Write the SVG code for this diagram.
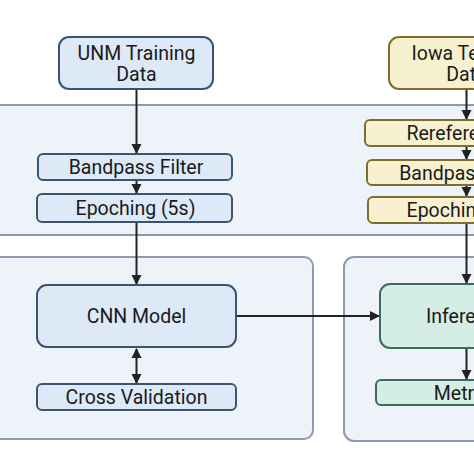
<svg xmlns="http://www.w3.org/2000/svg" width="474" height="474" viewBox="0 0 474 474">
<defs>
<marker id="ah" markerWidth="10" markerHeight="11" refX="9" refY="5.5" orient="auto" markerUnits="userSpaceOnUse">
<path d="M0,0.5 L10,5.5 L0,10.5 Z" fill="#222"/>
</marker>
<marker id="ahs" markerWidth="10" markerHeight="11" refX="1" refY="5.5" orient="auto" markerUnits="userSpaceOnUse">
<path d="M10,0.5 L0,5.5 L10,10.5 Z" fill="#222"/>
</marker>
<style>
.panel{fill:#eef2f9;stroke:#8d99ae;stroke-width:2}
.blue{fill:#dde9f6;stroke:#3b5570;stroke-width:2}
.yel{fill:#f8f1cf;stroke:#7e6c32;stroke-width:2}
.teal{fill:#d4ede5;stroke:#3d6a5d;stroke-width:2}
text{font-family:Roboto,"Liberation Sans",sans-serif;font-size:19.5px;fill:#1a1a1a;text-anchor:middle}
.c{stroke:#222;stroke-width:2;fill:none}
</style>
</defs>
<rect width="474" height="474" fill="#ffffff"/>
<g id="panels">
<rect class="panel" x="-20" y="105" width="520" height="130" rx="8"/>
<rect class="panel" x="-20" y="257" width="333" height="182" rx="9"/>
<rect class="panel" x="344" y="257" width="160" height="184" rx="10"/>
</g>
<g id="connectors">
<line class="c" x1="136.5" y1="90" x2="136.5" y2="153" marker-end="url(#ah)"/>
<line class="c" x1="136.5" y1="180" x2="136.5" y2="193" marker-end="url(#ah)"/>
<line class="c" x1="136.5" y1="222" x2="136.5" y2="284" marker-end="url(#ah)"/>
<line class="c" x1="136.5" y1="349" x2="136.5" y2="383" marker-start="url(#ahs)" marker-end="url(#ah)"/>
<line class="c" x1="236" y1="316" x2="379" y2="316" marker-end="url(#ah)"/>
<line class="c" x1="466.5" y1="90" x2="466.5" y2="119" marker-end="url(#ah)"/>
<line class="c" x1="466.5" y1="146" x2="466.5" y2="159" marker-end="url(#ah)"/>
<line class="c" x1="466.5" y1="185" x2="466.5" y2="196" marker-end="url(#ah)"/>
<line class="c" x1="466.5" y1="224" x2="466.5" y2="283" marker-end="url(#ah)"/>
<line class="c" x1="466.5" y1="349" x2="466.5" y2="379" marker-end="url(#ah)"/>
</g>
<g id="unm">
<rect class="blue" x="59" y="37" width="154" height="52" rx="10"/>
<text x="136.5" y="59.5">UNM Training</text>
<text x="136.5" y="81">Data</text>
</g>
<g id="bandpass-l">
<rect class="blue" x="38" y="154" width="194" height="26" rx="5"/>
<text x="136" y="173.5">Bandpass Filter</text>
</g>
<g id="epoch-l">
<rect class="blue" x="37" y="194" width="195" height="28" rx="5"/>
<text x="135.5" y="215">Epoching (5s)</text>
</g>
<g id="cnn">
<rect class="blue" x="37" y="285" width="199" height="62" rx="10"/>
<text x="136.5" y="323">CNN Model</text>
</g>
<g id="cv">
<rect class="blue" x="37" y="384" width="199" height="26" rx="5"/>
<text x="136.5" y="403.5">Cross Validation</text>
</g>
<g id="iowa">
<rect class="yel" x="389" y="37" width="155" height="52" rx="10"/>
<text x="466.5" y="59.5">Iowa Testing</text>
<text x="466.5" y="81">Data</text>
</g>
<g id="reref">
<rect class="yel" x="365" y="120" width="203" height="26" rx="5"/>
<text x="466.5" y="140">Rereferencing</text>
</g>
<g id="bandpass-r">
<rect class="yel" x="367" y="160" width="199" height="25" rx="5"/>
<text x="466.5" y="179.5">Bandpass Filter</text>
</g>
<g id="epoch-r">
<rect class="yel" x="368" y="197" width="197" height="26" rx="5"/>
<text x="466.5" y="217">Epoching (5s)</text>
</g>
<g id="inference">
<rect class="teal" x="380" y="284" width="173" height="64" rx="10"/>
<text x="466.5" y="323">Inference</text>
</g>
<g id="metrics">
<rect class="teal" x="376" y="380" width="181" height="25" rx="5"/>
<text x="466.5" y="399.5">Metrics</text>
</g>
</svg>
